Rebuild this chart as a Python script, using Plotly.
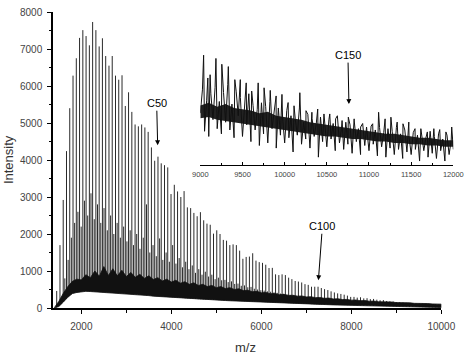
import plotly.graph_objects as go

# ---------------- data ----------------
# main spectrum: cluster peaks (m/z, intensity)
peak_mz = [1452, 1525, 1597, 1670, 1742, 1815, 1888, 1960, 2033, 2105,
           2178, 2251, 2323, 2396, 2468, 2541, 2614, 2686, 2759, 2831,
           2904, 2977, 3049, 3122, 3194, 3267, 3340, 3412, 3485, 3557,
           3630, 3703, 3775, 3848, 3920, 3993, 4066, 4138, 4211, 4283,
           4356, 4429, 4501, 4574, 4646, 4719, 4792, 4864, 4937, 5009,
           5082, 5155, 5227, 5300, 5372, 5445, 5518, 5590, 5663, 5735,
           5808, 5881, 5953, 6026, 6098, 6171, 6244, 6316, 6389, 6461,
           6534, 6607, 6679, 6752, 6824, 6897, 6970, 7042, 7115, 7187,
           7260, 7333, 7405, 7478, 7550, 7623, 7696, 7768, 7841, 7913,
           7986, 8059, 8131, 8204, 8276, 8349, 8422, 8494, 8567, 8639,
           8712, 8785, 8857, 8930, 9002, 9075, 9148, 9220, 9293, 9365,
           9438, 9511, 9583, 9656, 9728, 9801, 9874, 9946]
peak_int = [460, 1700, 2920, 4240, 5400, 6280, 6750, 7300, 7510, 7350,
            7100, 7730, 7510, 7070, 7290, 6810, 6550, 6810, 6280, 6170,
            6290, 5460, 5830, 5300, 4960, 4910, 4960, 4880, 4760, 4340,
            3980, 4090, 3910, 3860, 3800, 3080, 3330, 3150, 3000, 3160,
            2720, 2700, 2570, 2480, 2590, 2370, 2280, 2250, 2010, 2100,
            2000, 1840, 1820, 1700, 1720, 1700, 1550, 1330, 1380, 1390,
            1480, 1280, 1240, 1220, 1170, 1080, 1085, 910, 890, 910,
            890, 820, 780, 730, 715, 690, 645, 625, 575, 575,
            575, 540, 510, 485, 450, 420, 395, 380, 360, 335,
            300, 300, 280, 290, 260, 265, 240, 245, 225, 210,
            215, 190, 180, 175, 160, 155, 150, 140, 135, 130,
            125, 120, 118, 115, 112, 110, 108, 105]

# secondary (satellite) peaks
sec_mz = [1561, 1633, 1706, 1778, 1851, 1924, 1996, 2069, 2141, 2214,
          2287, 2359, 2432, 2504, 2577, 2650, 2722, 2795, 2867, 2940,
          3013, 3085, 3158, 3230, 3303, 3376, 3448, 3521, 3593, 3666,
          3739, 3811, 3884, 3956, 4029, 4102, 4174, 4247, 4319, 4392,
          4465, 4537, 4610, 4682, 4755, 4828, 4900, 4973, 5045, 5118,
          5191, 5263, 5336, 5408, 5481, 5554, 5626, 5699, 5771, 5844,
          5917, 5989, 6062, 6134, 6207, 6280, 6352, 6425, 6497, 6570,
          6643, 6715, 6788, 6860, 6933, 7006, 7078, 7151, 7223, 7296]
sec_int = [250, 800, 1300, 1900, 2300, 2600, 2200, 2900, 2500, 3100,
           2400, 2800, 2300, 2700, 2100, 2500, 2000, 2300, 1900, 2200,
           1800, 2100, 1700, 2000, 1600, 1900, 2800, 1500, 1700, 1400,
           1880, 1300, 1500, 1250, 1700, 1200, 1350, 1100, 1250, 1050,
           1150, 950, 1050, 900, 980, 850, 900, 780, 820, 750,
           760, 700, 720, 650, 660, 600, 610, 560, 570, 520,
           500, 480, 470, 450, 440, 420, 410, 390, 380, 360,
           350, 340, 330, 320, 310, 300, 290, 280, 270, 260]

# noise band of the main spectrum (upper / lower envelope)
band_mz = list(range(1400, 10001, 100))
band_hi = [10, 180, 400, 580, 720, 780, 760, 900, 820, 1000,
           860, 1120, 880, 1060, 870, 1020, 850, 960, 830, 910,
           800, 870, 770, 820, 730, 780, 700, 750, 670, 710,
           640, 680, 610, 640, 580, 610, 550, 580, 525, 550,
           500, 520, 470, 480, 440, 450, 410, 420, 385, 395,
           360, 370, 340, 345, 320, 325, 300, 305, 280, 285,
           262, 268, 245, 250, 228, 232, 212, 216, 198, 202,
           184, 188, 170, 174, 158, 162, 146, 150, 136, 140,
           126, 130, 118, 120, 110, 112, 104]
band_lo = [0, 40, 160, 290, 390, 420, 440, 450, 445, 440,
           435, 425, 420, 410, 400, 395, 385, 375, 365, 355,
           345, 335, 320, 310, 300, 290, 280, 272, 265, 258,
           250, 244, 238, 232, 226, 220, 214, 208, 202, 196,
           190, 185, 180, 175, 170, 165, 160, 155, 150, 145,
           140, 135, 130, 125, 120, 115, 110, 105, 100, 96,
           92, 88, 84, 80, 76, 72, 68, 64, 60, 56,
           52, 48, 45, 42, 39, 36, 33, 30, 28, 26,
           24, 22, 20, 18, 16, 14, 12]

# inset (9000-12000), arbitrary intensity units
inset_mz = list(range(9000, 12001, 25))
inset_noise = [40, 58, 26, 50, 22, 55, 35, 60, 28, 49,
               24, 56, 33, 62, 27, 47, 21, 57, 38, 52,
               22, 50, 31, 55, 18, 46, 27, 43, 15, 48,
               24, 45, 17, 49, 28, 40, 13, 44, 23, 37,
               17, 42, 21, 38, 10, 36, 23, 44, 16, 33,
               20, 39, 13, 36, 22, 32, 6, 37, 18, 31,
               14, 35, 20, 32, 11, 38, 17, 29, 12, 33,
               16, 31, 9, 34, 18, 28, 8, 32, 15, 26,
               11, 30, 16, 27, 7, 29, 14, 25, 6, 28,
               13, 26, 8, 29, 12, 24, 5, 27, 10, 22,
               8, 25, 12, 23, 3, 24, 11, 21, 6, 26,
               9, 22, 5, 24, 11, 20, 3, 23, 8, 19,
               12]
inset_band_mz = list(range(9000, 12001, 100))
inset_band_hi = [46, 48, 45, 47, 44, 43, 42, 40, 41, 38,
                 37, 36, 35, 33, 32, 31, 30, 29, 28, 27,
                 26, 25, 24, 24, 23, 22, 21, 21, 20, 19, 19]
inset_band_lo = [36, 37, 35, 34, 33, 32, 31, 30, 29, 28,
                 27, 26, 25, 24, 23, 22, 22, 21, 20, 20,
                 19, 18, 18, 17, 17, 16, 16, 15, 15, 14, 14]
inset_peak_mz = [9039, 9089, 9116, 9185, 9255, 9332, 9409, 9474, 9544, 9609,
                 9686, 9756, 9829, 9899, 9968, 10041, 10111, 10180, 10253, 10323,
                 10392, 10466, 10535, 10604, 10681, 10755, 10824, 10901, 10971, 11044,
                 11114, 11191, 11260, 11334, 11403, 11472, 11546, 11615, 11692, 11769,
                 11839, 11912, 11981]
inset_peak_v = [84.8, 67.2, 69.7, 82.3, 77.8, 76.0, 65.9, 65.9, 63.4, 57.1,
                63.4, 59.6, 57.6, 53.3, 54.5, 48.2, 45.7, 55.8, 41.9, 40.7,
                43.2, 39.4, 39.4, 35.6, 34.3, 36.9, 35.6, 29.3, 29.3, 31.8,
                40.7, 35.6, 36.9, 33.1, 31.8, 33.1, 28.0, 28.0, 25.5, 28.0,
                27.3, 25.5, 29.3]

main_xticks = [2000, 4000, 6000, 8000, 10000]
main_yticks = [0, 1000, 2000, 3000, 4000, 5000, 6000, 7000, 8000]
inset_xticks = [9000, 9500, 10000, 10500, 11000, 11500, 12000]

# ---------------- figure ----------------
fig = go.Figure()

# spikes (main + satellite) drawn from zero
sx, sy = [], []
for m, h in zip(peak_mz + sec_mz, peak_int + sec_int):
    sx += [m, m, None]
    sy += [0, h, None]
fig.add_trace(go.Scatter(x=sx, y=sy, mode="lines",
                         line=dict(color="#2a2a2a", width=1), hoverinfo="skip"))

# white region below the noise band
fig.add_trace(go.Scatter(x=band_mz + band_mz[::-1],
                         y=band_lo + [0] * len(band_mz),
                         mode="lines", fill="toself", fillcolor="white",
                         line=dict(width=0, color="white"), hoverinfo="skip"))
# black noise band
fig.add_trace(go.Scatter(x=band_mz + band_mz[::-1],
                         y=band_hi + band_lo[::-1],
                         mode="lines", fill="toself", fillcolor="#111",
                         line=dict(width=0.8, color="#111"), hoverinfo="skip"))

# inset: dark core band
fig.add_trace(go.Scatter(x=inset_band_mz + inset_band_mz[::-1],
                         y=inset_band_hi + inset_band_lo[::-1],
                         mode="lines", fill="toself", fillcolor="#222",
                         line=dict(width=0, color="#222"),
                         xaxis="x2", yaxis="y2", hoverinfo="skip"))
# inset trace: noise + peaks merged along m/z
pts = sorted(list(zip(inset_mz, inset_noise)) + list(zip(inset_peak_mz, inset_peak_v)))
fig.add_trace(go.Scatter(x=[p[0] for p in pts], y=[p[1] for p in pts],
                         mode="lines", line=dict(color="#111", width=1),
                         xaxis="x2", yaxis="y2", hoverinfo="skip"))

fam = "Liberation Sans, Arial, sans-serif"
tickfont = dict(family=fam, size=10, color="#444")
lblfont = dict(family=fam, size=11, color="black")

fig.update_layout(
    width=474, height=354,
    margin=dict(l=53, r=10, t=6, b=46),
    paper_bgcolor="white", plot_bgcolor="white",
    showlegend=False,
    xaxis=dict(domain=[0, 0.9684], range=[1370, 10000],
               tickvals=main_xticks, ticktext=[str(v) for v in main_xticks],
               ticks="outside", ticklen=4, tickwidth=1, tickcolor="black",
               minor=dict(dtick=1000, tick0=0, ticks="outside", ticklen=3, tickcolor="black"),
               showline=True, linecolor="black", linewidth=1.5,
               showgrid=False, zeroline=False, tickfont=tickfont,
               ticklabelstandoff=4),
    yaxis=dict(domain=[0, 1], range=[0, 8000],
               tickvals=main_yticks, ticktext=[str(v) for v in main_yticks],
               ticks="outside", ticklen=4, tickwidth=1, tickcolor="black",
               minor=dict(dtick=500, tick0=0, ticks="outside", ticklen=2, tickcolor="black"),
               showline=True, linecolor="black", linewidth=1.5,
               showgrid=False, zeroline=False, tickfont=tickfont,
               ticklabelstandoff=3),
    xaxis2=dict(domain=[0.3674, 0.9983], range=[9000, 12000], anchor="y2",
                tickvals=inset_xticks, ticktext=[str(v) for v in inset_xticks],
                ticks="inside", ticklen=3, tickwidth=1, tickcolor="black",
                minor=dict(dtick=250, tick0=9000, ticks="inside", ticklen=2, tickcolor="black"),
                showline=True, linecolor="black", linewidth=1,
                showgrid=False, zeroline=False,
                tickfont=dict(family=fam, size=7.5, color="#444"),
                ticklabelstandoff=2),
    yaxis2=dict(domain=[0.4834, 0.9205], range=[0, 100], anchor="x2",
                visible=False, showgrid=False, zeroline=False),
)

ann = [
    dict(x=3696, y=4400, xref="x", yref="y", text="C50", showarrow=True,
         ax=-1, ay=-42, arrowhead=2, arrowsize=1, arrowwidth=1, arrowcolor="black",
         font=lblfont),
    dict(x=7268, y=750, xref="x", yref="y", text="C100", showarrow=True,
         ax=4, ay=-54, arrowhead=2, arrowsize=1, arrowwidth=1, arrowcolor="black",
         font=lblfont),
    dict(x=10762, y=47, xref="x2", yref="y2", text="C150", showarrow=True,
         ax=-1, ay=-49, arrowhead=2, arrowsize=1, arrowwidth=1, arrowcolor="black",
         font=lblfont),
    dict(x=-0.112, y=0.5, xref="paper", yref="paper", text="Intensity",
         showarrow=False, textangle=-90, xanchor="center", yanchor="middle",
         font=dict(family=fam, size=13, color="#333")),
    dict(x=0.479, y=-0.133, xref="paper", yref="paper", text="m/z",
         showarrow=False, xanchor="center", yanchor="middle",
         font=dict(family=fam, size=13, color="#333")),
]
fig.update_layout(annotations=ann)

fig.write_html("out.html")
